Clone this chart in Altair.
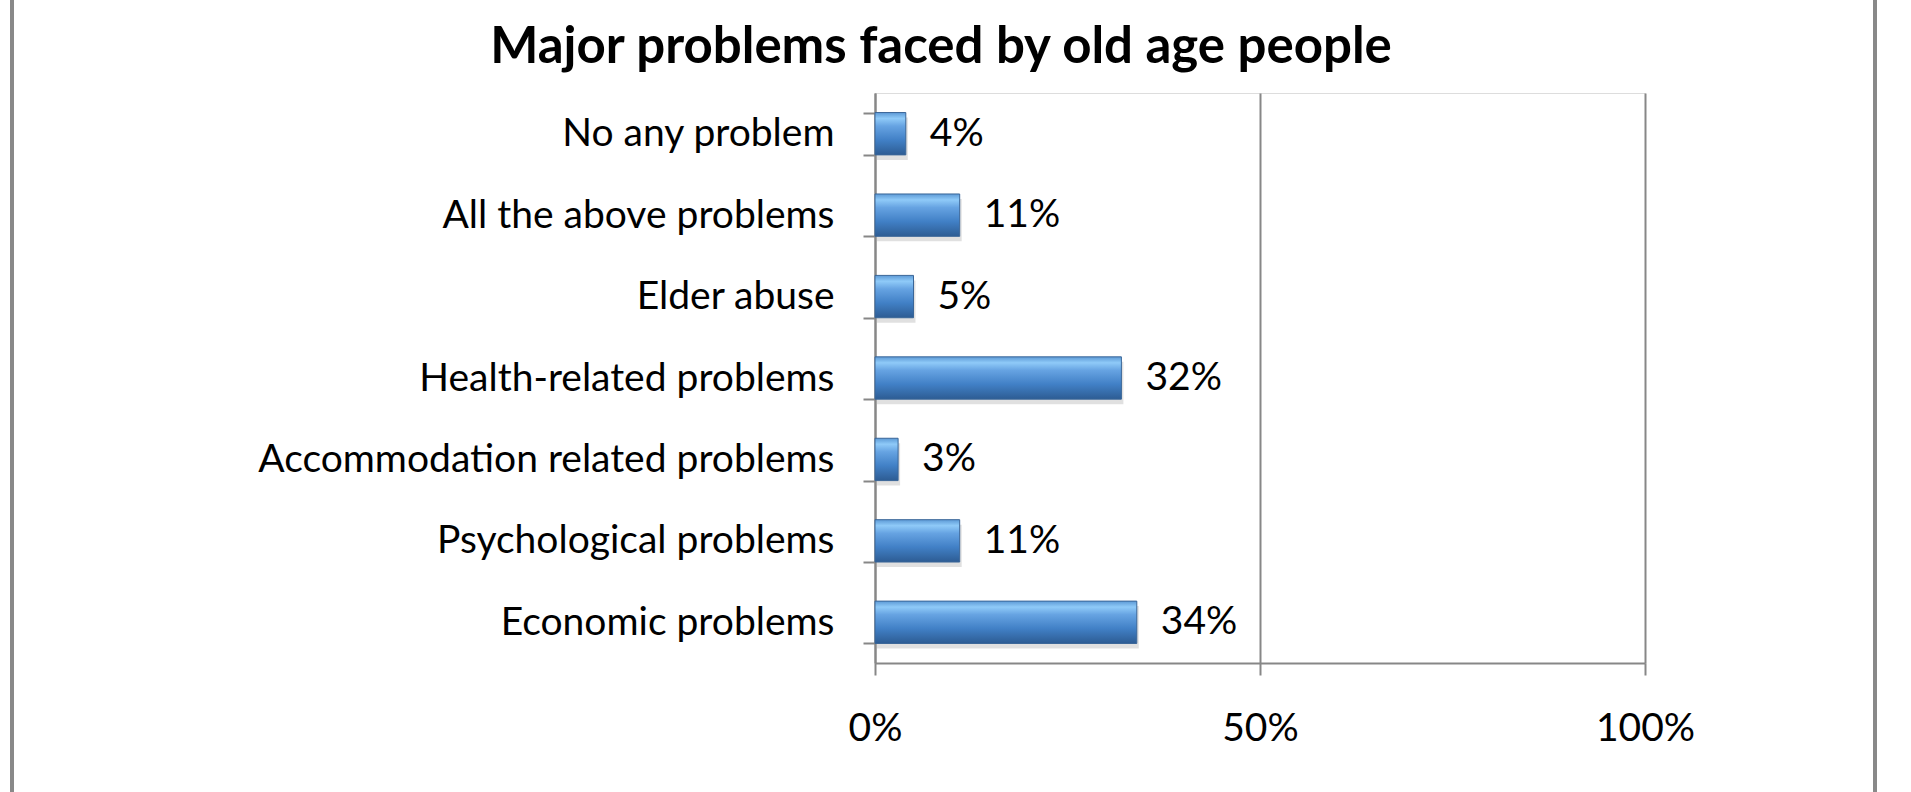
import altair as alt
import pandas as pd

categories = [
    "No any problem",
    "All the above problems",
    "Elder abuse",
    "Health-related problems",
    "Accommodation related problems",
    "Psychological problems",
    "Economic problems",
]
values = [4, 11, 5, 32, 3, 11, 34]
x_ticks = [0, 50, 100]
title_text = "Major problems faced by old age people"

df = pd.DataFrame({"category": categories, "value": values})
df["label"] = [f"{v}%" for v in values]

FONT = "Lato"
GRAY = "#878787"
FS = 39

y_enc = alt.Y(
    "category:N",
    sort=categories,
    scale=alt.Scale(paddingInner=0.48, paddingOuter=0.24),
    axis=alt.Axis(
        title=None, tickBand="extent", labelFontSize=FS, labelFont=FONT,
        labelPadding=29, tickSize=12, domainColor=GRAY, tickColor=GRAY,
        domainWidth=2, tickWidth=2, labelColor="black", grid=False, labelLimit=0,
    ),
)
x_enc = alt.X(
    "value:Q",
    scale=alt.Scale(domain=[0, 100]),
    axis=alt.Axis(
        values=x_ticks, labelExpr="datum.value + '%'", title=None, grid=True,
        gridColor=GRAY, gridWidth=2, tickSize=12, tickColor=GRAY, tickWidth=2,
        domainColor=GRAY, domainWidth=2, labelPadding=65, labelBaseline="alphabetic",
        labelFontSize=FS, labelFont=FONT, labelColor="black", labelFlush=False,
    ),
)

grad = alt.LinearGradient(
    gradient="linear",
    stops=[
        alt.GradientStop(color="#5d9ad6", offset=0),
        alt.GradientStop(color="#8fcaf8", offset=0.14),
        alt.GradientStop(color="#66a3e2", offset=0.32),
        alt.GradientStop(color="#4180c6", offset=0.65),
        alt.GradientStop(color="#2d5c93", offset=1),
    ],
    x1=0, x2=0, y1=0, y2=1,
)

base = alt.Chart(df)

shadow = base.mark_bar(color="#000000", opacity=0.12, yOffset=5, xOffset=2).encode(
    x=x_enc, y=y_enc
)
bars = base.mark_bar(color=grad, stroke="#3a6698", strokeWidth=1).encode(
    x=x_enc, y=y_enc
)
labels = base.mark_text(
    align="left", baseline="middle", dx=24, fontSize=FS, font=FONT, color="black"
).encode(x=alt.X("value:Q"), y=alt.Y("category:N", sort=categories), text="label:N")

frame = alt.Chart(alt.Data(values=[{}])).mark_rule(color="#898989", strokeWidth=4)
left_border = frame.encode(x=alt.value(-863), y=alt.value(-93), y2=alt.value(699))
right_border = frame.encode(x=alt.value(1000), y=alt.value(-93), y2=alt.value(699))

chart = alt.layer(shadow, bars, labels, left_border, right_border).properties(
    width=770,
    height=570,
    autosize=alt.AutoSizeParams(type="none"),
    padding={"left": 875, "top": 93, "right": 266, "bottom": 129},
    title=alt.TitleParams(
        title_text, fontSize=51, font=FONT, fontWeight="bold", anchor="middle",
        dx=-319, dy=146, offset=30, baseline="alphabetic", color="black",
    ),
).configure_view(stroke=None).configure(background="white")

chart.save("out.html", embed_options={"renderer": "svg", "actions": False})
